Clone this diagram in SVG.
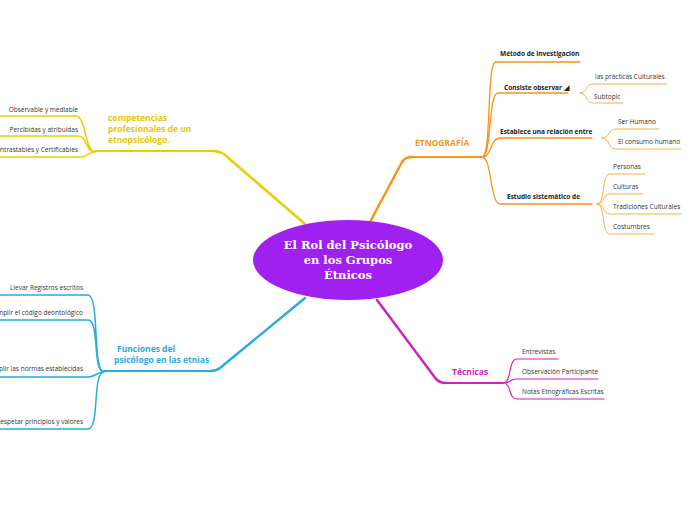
<svg xmlns="http://www.w3.org/2000/svg" width="696" height="520" viewBox="0 0 696 520">
<style>
text{font-family:"Open Sans","Noto Sans",sans-serif;font-size:6.5px;fill:#333}
.b{font-weight:bold;fill:#222}
.lab{font-size:8.5px;font-weight:bold}
.y{stroke:#e8cf00;fill:none}
.o{stroke:#f7941d;fill:none}
.ol{stroke:#fbb040;fill:none}
.bl{stroke:#29abe2;fill:none}
.m{stroke:#d21fbf;fill:none}
</style>
<rect width="696" height="520" fill="#fff"/>
<g id="connectors" stroke-linecap="round">
<path class="y" stroke-width="2.5" d="M305 224 L225 155 Q220 151 212 151"/>
<path class="y" stroke-width="2" d="M212 151 H95"/>
<path class="y" stroke-width="1.5" d="M95 152 C85 152 86 116 76 116 H0 M95 152 C85 152 88 136 78 136 H0 M95 152 C88 152 88 157 80 157 H0"/>
<path class="o" stroke-width="2.5" d="M370 222 L402 162 Q405 157 412 157"/>
<path class="o" stroke-width="2" d="M412 157 H482"/>
<path class="o" stroke-width="1.3" d="M482 157 C492 157 486 62 496 62 H580 M482 157 C492 157 488 93 498 93 H568 M482 157 C492 157 490 138 500 138 H592 M482 157 C492 157 490 204 500 204 H592"/>
<path class="ol" stroke-width="1" d="M580 93 C588 93 585 84 593 84 H667 M580 93 C588 93 585 103 593 103 H623 M602 138 C610 138 608 129 616 129 H659 M602 138 C610 138 608 149 616 149 H681 M597 204 C606 204 601 174 610 174 H645 M597 204 C606 204 601 194 610 194 H643 M597 204 C606 204 601 214 610 214 H681 M597 204 C606 204 601 234 610 234 H654"/>
<path class="bl" stroke-width="2.5" d="M305 298 L220 368 Q216 371 210 371"/>
<path class="bl" stroke-width="2" d="M210 371 H104"/>
<path class="bl" stroke-width="1.5" d="M104 372 C92 372 100 295 88 295 H0 M104 372 C92 372 100 320 88 320 H0 M104 372 C96 372 96 377 88 377 H0 M104 372 C92 372 100 429 88 429 H0"/>
<path class="m" stroke-width="2.5" d="M377 300 L436 379 Q440 383 446 383"/>
<path class="m" stroke-width="2" d="M446 383 H503"/>
<path class="m" stroke-width="1.2" d="M503 383 C512 383 508 359 517 359 H558 M503 383 C512 383 508 379 517 379 H598 M503 383 C512 383 508 399 517 399 H604"/>
</g>
<g id="center"><ellipse cx="348" cy="260" rx="95" ry="40" fill="#a020f0"/>
<text x="348" y="249" text-anchor="middle" style="font-family:'DejaVu Serif',serif;font-size:11.5px;font-weight:bold;fill:#fff">El Rol del Psicólogo</text>
<text x="348" y="264" text-anchor="middle" style="font-family:'DejaVu Serif',serif;font-size:11.5px;font-weight:bold;fill:#fff">en los Grupos</text>
<text x="348" y="279" text-anchor="middle" style="font-family:'DejaVu Serif',serif;font-size:11.5px;font-weight:bold;fill:#fff">Étnicos</text></g>
<g id="competencias"><text class="lab" x="108" y="121" fill="#e8c800" style="fill:#e8c800">competencias</text><text class="lab" x="108" y="132" style="fill:#e8c800">profesionales de un</text><text class="lab" x="108" y="143" style="fill:#e8c800">etnopsicólogo.</text></g>
<g id="c1"><text x="78" y="112" text-anchor="end">Observable y mediable</text></g>
<g id="c2"><text x="78" y="132" text-anchor="end">Percibidas y atribuidas</text></g>
<g id="c3"><text x="78" y="152" text-anchor="end">Contrastables y Certificables</text></g>
<g id="etnografia"><text class="lab" x="415" y="146" style="fill:#f7941d">ETNOGRAFÍA</text></g>
<g id="e1"><text class="b" x="500" y="56">Método de investigación</text></g>
<g id="e2"><text class="b" x="504" y="90">Consiste observar ◢</text></g>
<g id="e3"><text class="b" x="500" y="134">Establece una relación entre</text></g>
<g id="e4"><text class="b" x="507" y="199">Estudio sistemático de</text></g>
<g id="e21"><text x="595" y="79">las prácticas Culturales</text></g>
<g id="e22"><text x="594" y="99">Subtopic</text></g>
<g id="e31"><text x="618" y="124">Ser Humano</text></g>
<g id="e32"><text x="618" y="144">El consumo humano</text></g>
<g id="e41"><text x="613" y="169">Personas</text></g>
<g id="e42"><text x="613" y="189">Culturas</text></g>
<g id="e43"><text x="613" y="209">Tradiciones Culturales</text></g>
<g id="e44"><text x="613" y="229">Costumbres</text></g>
<g id="funciones"><text class="lab" x="117" y="352" style="fill:#29abe2">Funciones del</text><text class="lab" x="114" y="363" style="fill:#29abe2">psicólogo en las etnias</text></g>
<g id="f1"><text x="83" y="290" text-anchor="end">Llevar Registros escritos</text></g>
<g id="f2"><text x="83" y="315" text-anchor="end">Cumplir el código deontológico</text></g>
<g id="f3"><text x="83" y="371" text-anchor="end">Cumplir las normas establecidas</text></g>
<g id="f4"><text x="83" y="424" text-anchor="end">Respetar principios y valores</text></g>
<g id="tecnicas"><text class="lab" x="452" y="375" style="fill:#d21fbf">Técnicas</text></g>
<g id="t1"><text x="522" y="354">Entrevistas</text></g>
<g id="t2"><text x="522" y="374">Observación Participante</text></g>
<g id="t3"><text x="522" y="394">Notas Etnográficas Escritas</text></g>
</svg>
